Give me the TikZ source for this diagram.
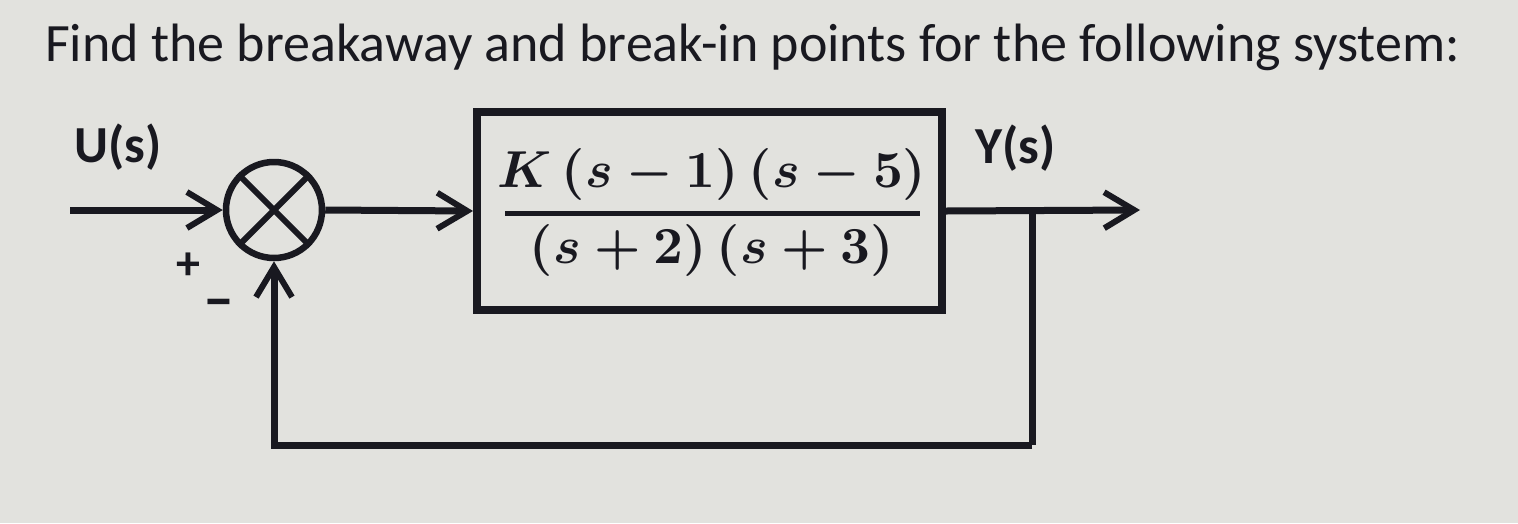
\documentclass[tikz,border=0pt]{standalone}
\usepackage{fontspec}
\setmainfont{Carlito}
\usetikzlibrary{arrows.meta}
\definecolor{bgc}{RGB}{226,226,222}
\definecolor{ink}{RGB}{25,25,32}
\begin{document}
\begin{tikzpicture}[x=1pt,y=-1pt,
  wire/.style={draw=ink,line width=7pt},
  arr/.style={wire,-{Straight Barb[length=30pt,width=36pt,line width=6pt]}},
  lbl/.style={text=ink,font=\fontsize{52}{56}\selectfont\bfseries,inner sep=0pt},
  mth/.style={text=ink,font=\boldmath,inner sep=0pt,scale=5.2,transform shape}]
\fill[bgc] (0,0) rectangle (1518,523);
\useasboundingbox (0,0) rectangle (1518,523);
% title
\node[anchor=base west,inner sep=0pt,text=ink,font=\fontsize{54}{60}\selectfont] (title) at (45,61) {Find the breakaway and break-in points for the following system:};
% labels
\node[lbl,anchor=base west] (ulab) at (74,162) {U(s)};
\node[lbl,anchor=base west] (ylab) at (975,163) {Y(s)};
% summing junction
\node[draw=ink,line width=6.5pt,circle,minimum size=96pt,inner sep=0pt] (sum) at (274,210) {};
\draw[ink,line width=6pt] (sum.north west) -- (sum.south east);
\draw[ink,line width=6pt] (sum.south west) -- (sum.north east);
\node[lbl,anchor=center,font=\fontsize{48}{48}\selectfont\bfseries] (plus) at (188,266) {+};
\node[lbl,anchor=center,font=\fontsize{62}{62}\selectfont\bfseries] (minus) at (219,309) {–};
% block
\node[draw=ink,line width=8pt,minimum width=465pt,minimum height=198pt,inner sep=0pt] (plant) at (709.5,211) {};
\node[mth,anchor=base] (num) at (712,187) {$K\,(s-1)\,(s-5)$};
\node[mth,anchor=base] (den) at (712,263) {$(s+2)\,(s+3)$};
\coordinate (barl) at (505,213);
\coordinate (barr) at (920,213);
\draw[ink,line width=5pt] (barl) -- (barr);
% connectors
\coordinate (uin) at (70,210);
\coordinate (yout) at (1140,210);
\coordinate (br) at (1032,210);
\coordinate (fb) at (1032,445);
\draw[arr] (uin) -- (sum.west);
\draw[arr] (sum.east) -- (plant.west);
\draw[arr] (plant.east) -- (yout);
\draw[wire] (br) -- (fb);
\draw[arr,line join=miter] (fb) -| (sum.south);
\end{tikzpicture}
\end{document}
